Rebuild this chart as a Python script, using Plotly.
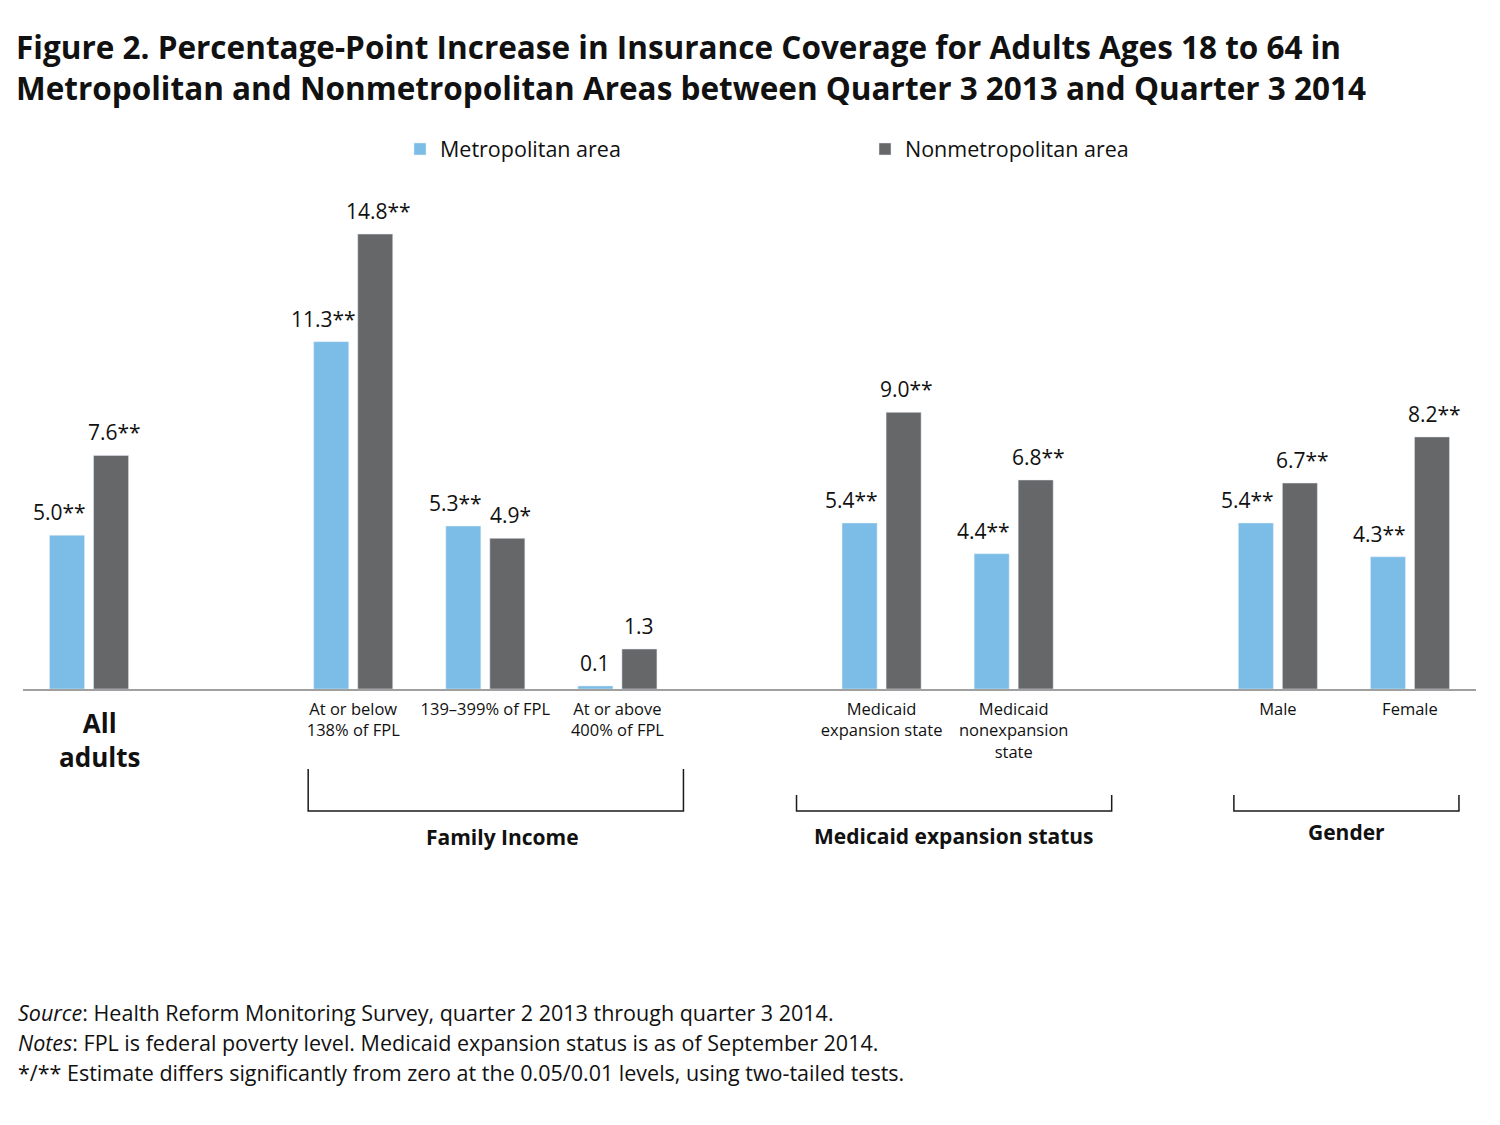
import plotly.graph_objects as go

# ---------------- data ----------------
slots = [0, 2, 3, 4, 6, 7, 9, 10]
categories = ["All adults", "At or below<br>138% of FPL", "139–399% of FPL", "At or above<br>400% of FPL",
              "Medicaid<br>expansion state", "Medicaid<br>nonexpansion<br>state", "Male", "Female"]
metro = [5.0, 11.3, 5.3, 0.1, 5.4, 4.4, 5.4, 4.3]
nonmetro = [7.6, 14.8, 4.9, 1.3, 9.0, 6.8, 6.7, 8.2]
sig_metro = ["**", "**", "**", "", "**", "**", "**", "**"]
sig_nonmetro = ["**", "**", "*", "", "**", "**", "**", "**"]
series_names = ["Metropolitan area", "Nonmetropolitan area"]
group_labels = ["Family Income", "Medicaid expansion status", "Gender"]

title_text = ("<b>Figure 2. Percentage-Point Increase in Insurance Coverage for Adults Ages 18 to 64 in<br>"
              "Metropolitan and Nonmetropolitan Areas between Quarter 3 2013 and Quarter 3 2014</b>")
footnote_lines = ["<i>Source</i>: Health Reform Monitoring Survey, quarter 2 2013 through quarter 3 2014.",
                  "<i>Notes</i>: FPL is federal poverty level. Medicaid expansion status is as of September 2014.",
                  "*/** Estimate differs significantly from zero at the 0.05/0.01 levels, using two-tailed tests."]

# ---------------- style ----------------
FONT = "Open Sans"
C_METRO = "#7BBDE6"
C_NON = "#666769"
TXT = "#111111"
OFF = 8                      # page body margin of the html page
W, H = 1500 - OFF, 1125 - OFF
PLOT_L, PLOT_R, PLOT_T, BASE = 23, 1476, 180, 689   # reference pixel geometry
ML, MR, MT, MB = PLOT_L - OFF, W - (PLOT_R - OFF), PLOT_T - OFF, H - (BASE - OFF)
plot_h = BASE - PLOT_T
px_per_unit = 30.74
y_max = plot_h / px_per_unit

BAR_W = 35 / 132
HALF_OFF = 22 / 132


def py(p):
    """reference pixel row -> paper y"""
    return (BASE - p) / plot_h


fig = go.Figure()
fig.add_trace(go.Bar(x=slots, y=metro, name=series_names[0], marker_color=C_METRO,
                     width=BAR_W, offset=-HALF_OFF - BAR_W / 2))
fig.add_trace(go.Bar(x=slots, y=nonmetro, name=series_names[1], marker_color=C_NON,
                     width=BAR_W, offset=HALF_OFF - BAR_W / 2))

annotations = []
for vals, sigs, sh, pxs in ((metro, sig_metro, -HALF_OFF, -8), (nonmetro, sig_nonmetro, HALF_OFF, 3)):
    for s, v, sg in zip(slots, vals, sigs):
        annotations.append(dict(x=s + sh, y=v, xref="x", yref="y", text=f"{v:.1f}{sg}",
                                showarrow=False, yanchor="bottom", xanchor="center",
                                yshift=7, xshift=pxs if sg else 0,
                                font=dict(family=FONT, size=21, color=TXT)))

# "All adults" big label
annotations.append(dict(x=slots[0], y=py(703), xref="x", yref="paper", xshift=10,
                        text="<b>All<br>adults</b>", showarrow=False, yanchor="top",
                        font=dict(family=FONT, size=26, color=TXT)))

# group labels and brackets
group_x = [3.13, 6.55, 9.52]
group_py = [837, 836, 832]
for gx, gp, gl in zip(group_x, group_py, group_labels):
    annotations.append(dict(x=gx, y=py(gp), xref="x", yref="paper", text=f"<b>{gl}</b>",
                            showarrow=False, yanchor="middle",
                            font=dict(family=FONT, size=21, color=TXT)))

brackets = [(1.659, 4.5, 769, 811), (5.356, 7.742, 795, 811), (8.667, 10.371, 795, 811)]
shapes = []
for x0, x1, ytop, ybot in brackets:
    shapes.append(dict(type="path", xref="x", yref="paper",
                       path=f"M {x0},{py(ytop)} L {x0},{py(ybot)} L {x1},{py(ybot)} L {x1},{py(ytop)}",
                       line=dict(color="#1a1a1a", width=1.5)))

foot_py = [1012, 1042, 1072]
for fy, fl in zip(foot_py, footnote_lines):
    annotations.append(dict(x=(16 - PLOT_L) / (PLOT_R - PLOT_L), y=py(fy), xref="paper", yref="paper",
                            text=fl, showarrow=False, xanchor="left", yanchor="middle", align="left",
                            font=dict(family=FONT, size=21.5, color=TXT)))

fig.update_layout(
    width=W, height=H,
    margin=dict(l=ML, r=MR, t=MT, b=MB),
    paper_bgcolor="white", plot_bgcolor="white",
    barmode="overlay",
    title=dict(text=title_text, x=(16 - OFF) / W, xref="container", xanchor="left",
               y=1 - 51 / H, yref="container", yanchor="top",
               font=dict(family=FONT, size=31.5, color=TXT)),
    legend=dict(orientation="h", x=(400 - PLOT_L) / (PLOT_R - PLOT_L), y=py(149), xanchor="left",
                yanchor="middle", font=dict(family=FONT, size=21.5, color=TXT),
                entrywidth=420, entrywidthmode="pixels", itemclick=False, itemdoubleclick=False),
    xaxis=dict(range=[-0.5, 10.5], tickvals=slots[1:], ticktext=categories[1:], ticks="",
               ticklabelstandoff=4,
               showline=True, linecolor="#A0A0A0", linewidth=2, showgrid=False, zeroline=False,
               tickfont=dict(family=FONT, size=16.5, color=TXT), fixedrange=True),
    yaxis=dict(range=[0, y_max], visible=False, showgrid=False, zeroline=False, fixedrange=True),
    annotations=annotations,
    shapes=shapes,
    font=dict(family=FONT),
)

fig.write_html("out.html")
